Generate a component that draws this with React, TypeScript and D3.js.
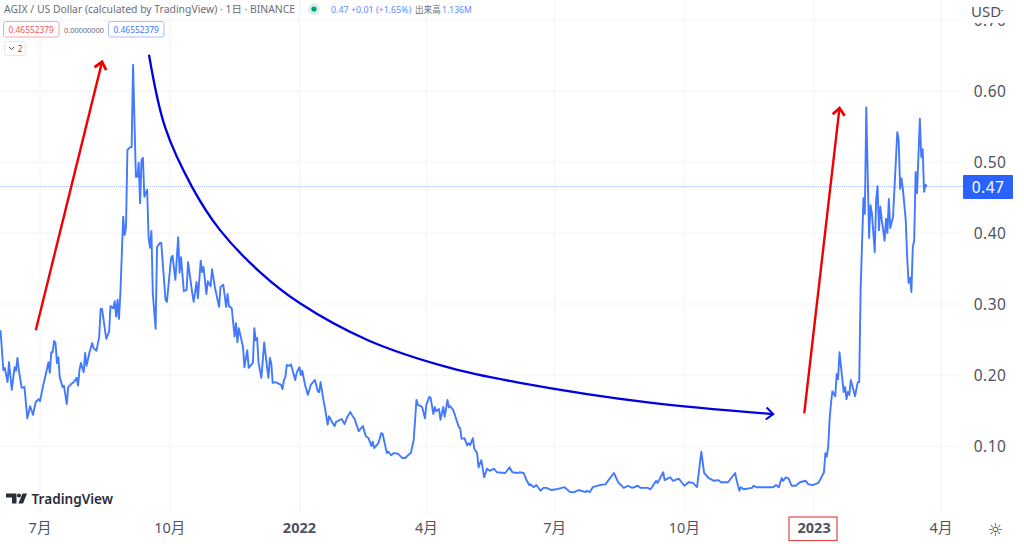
import React from 'react';
import { scaleUtc, scaleLinear, line, curveLinear, curveCatmullRom } from 'd3';

// days counted from 2021-07-01, closing price in USD
const days = [
  -28, -26, -25, -23, -22, -20, -18, -17, -16, -15, -13, -11, -9, -7, -5, -3, -1, 0, 2, 4, 6, 7, 8, 9, 10, 11, 12, 13, 14, 16, 17, 19, 20, 22, 24, 26, 27, 28, 29, 31, 32, 33, 35, 37, 38, 40, 42, 43, 44, 47, 49, 50, 52, 53, 54, 55, 56, 57, 59, 60, 61, 62, 64, 65, 66, 68, 69, 70, 71, 72, 73, 74, 76, 77, 78, 79, 80, 82, 83, 85, 86, 89, 90, 93, 94, 96, 98, 99, 100, 102, 104, 105, 108, 109, 111, 112, 114, 115, 116, 118, 119, 121, 122, 124, 127, 128, 130, 132, 133, 134, 136, 138, 139, 140, 141, 144, 145, 147, 148, 151, 152, 153, 154, 155, 157, 159, 161, 162, 163, 164, 165, 167, 171, 172, 173, 174, 175, 177, 178, 181, 182, 184, 185, 186, 188, 190, 192, 195, 197, 198, 199, 201, 202, 204, 205, 207, 209, 210, 214, 216, 218, 220, 222, 223, 226, 229, 231, 233, 235, 236, 237, 240, 242, 243, 246, 247, 249, 251, 254, 257, 259, 261, 263, 265, 267, 268, 271, 273, 274, 276, 277, 279, 280, 281, 283, 284, 286, 287, 289, 290, 291, 293, 297, 298, 299, 301, 303, 304, 305, 307, 308, 310, 311, 313, 315, 317, 319, 320, 322, 324, 330, 333, 335, 339, 340, 343, 345, 347, 348, 350, 352, 355, 357, 359, 363, 366, 370, 372, 376, 379, 382, 387, 388, 390, 392, 397, 401, 404, 407, 410, 414, 417, 420, 424, 426, 431, 433, 437, 438, 442, 443, 445, 447, 449, 453, 457, 460, 463, 466, 469, 471, 474, 478, 481, 483, 488, 493, 494, 496, 497, 499, 505, 506, 508, 513, 520, 522, 524, 526, 527, 529, 531, 533, 536, 539, 543, 545, 548, 552, 554, 556, 557, 558, 559, 560, 561, 562, 564, 565, 566, 567, 570, 571, 572, 573, 574, 575, 576, 578, 580, 581, 582, 584, 585, 586, 588, 589, 590, 592, 593, 594, 595, 596, 597, 599, 600, 601, 602, 603, 605, 608, 609, 610, 611, 612, 614, 615, 616, 617, 618, 619, 620, 621, 622, 624, 625, 626, 627, 628, 629,
];
const prices = [
  .263, .207, .210, .190, .218, .179, .211, .206, .224, .207, .182, .183, .139, .156, .144, .162, .166, .163, .183, .200, .218, .203, .232, .232, .248, .245, .217, .225, .197, .183, .185, .159, .183, .187, .190, .196, .185, .207, .217, .204, .231, .213, .231, .245, .238, .234, .254, .293, .293, .251, .261, .297, .294, .304, .282, .306, .279, .315, .423, .397, .408, .517, .521, .521, .637, .479, .479, .499, .442, .503, .506, .451, .461, .394, .379, .403, .315, .265, .380, .386, .386, .306, .303, .365, .368, .334, .394, .344, .366, .318, .320, .359, .315, .303, .331, .308, .361, .345, .352, .314, .332, .325, .349, .324, .296, .324, .327, .296, .314, .297, .294, .254, .273, .246, .266, .239, .211, .235, .210, .217, .266, .249, .252, .217, .196, .246, .211, .196, .224, .217, .189, .190, .186, .180, .193, .197, .214, .213, .215, .193, .203, .211, .200, .206, .186, .172, .186, .193, .177, .176, .190, .165, .155, .130, .142, .134, .128, .134, .138, .131, .141, .148, .141, .139, .121, .128, .114, .111, .100, .106, .097, .104, .118, .117, .090, .092, .087, .090, .089, .083, .083, .087, .090, .108, .165, .158, .155, .139, .158, .169, .168, .145, .155, .149, .152, .137, .155, .141, .165, .154, .156, .151, .127, .125, .110, .111, .101, .104, .101, .111, .096, .090, .070, .080, .056, .068, .065, .066, .068, .063, .062, .070, .063, .062, .063, .062, .052, .045, .046, .042, .045, .037, .041, .041, .038, .039, .041, .042, .035, .035, .038, .035, .037, .035, .042, .045, .046, .054, .062, .049, .041, .044, .041, .044, .041, .041, .039, .051, .048, .063, .052, .054, .056, .051, .054, .044, .049, .048, .042, .092, .062, .055, .051, .052, .049, .049, .062, .052, .037, .042, .039, .041, .044, .042, .042, .042, .045, .042, .055, .051, .056, .054, .044, .044, .049, .051, .046, .045, .048, .055, .063, .090, .085, .099, .137, .161, .177, .170, .201, .194, .232, .176, .183, .166, .176, .172, .193, .186, .170, .190, .190, .320, .449, .427, .577, .393, .439, .428, .373, .446, .466, .404, .437, .418, .389, .420, .400, .448, .407, .423, .542, .531, .462, .477, .461, .418, .366, .330, .337, .317, .380, .390, .486, .456, .561, .507, .518, .458, .468, .465,
];

const priceTicks = [0.1, 0.2, 0.3, 0.4, 0.5, 0.6, 0.7];
const lastPrice = 0.46552379;

const timeTickDates = ['2021-07-01', '2021-10-01', '2022-01-01', '2022-04-01', '2022-07-01', '2022-10-01', '2023-01-01', '2023-04-01'];
const timeTickLabels = ['7月', '10月', '2022', '4月', '7月', '10月', '2023', '4月'];

// hand drawn annotations, in the same day / price units as the series
const riseOneDays = [-3, 44];
const riseOnePrices = [.263, .641];
const riseTwoDays = [542, 567];
const riseTwoPrices = [.146, .576];
const fallDays = [77.3, 88.7, 107.8, 127.7, 156, 184.4, 232.6, 290.8, 340.4, 432.6, 520];
const fallPrices = [.651, .549, .465, .404, .345, .301, .249, .210, .189, .161, .145];

const baseDay = new Date(Date.UTC(2021, 6, 1));
const toDate = (d: number) => new Date(baseDay.getTime() + d * 86400000);

const x = scaleUtc()
  .domain([new Date('2021-07-01T00:00:00Z'), new Date('2023-04-01T00:00:00Z')])
  .range([40, 941]);
const y = scaleLinear().domain([0.1, 0.6]).range([446, 91]);

const FONT = '"Noto Sans", "Noto Sans CJK JP", sans-serif';

type Pt = [number, number];
const zipPts = (ds: number[], ps: number[]): Pt[] => ds.map((d, i) => [d, ps[i]]);

const priceLine = line<Pt>()
  .x(d => x(toDate(d[0])))
  .y(d => y(d[1]))
  .curve(curveLinear);
const fallLine = line<Pt>()
  .x(d => x(toDate(d[0])))
  .y(d => y(d[1]))
  .curve(curveCatmullRom.alpha(0.5));

const App: React.FC = () => {
  const series = zipPts(days, prices);
  return (
    <div>
      <style>{`body{margin:0;background:#fff}`}</style>
      <svg width={1024} height={544} style={{ display: 'block', fontFamily: FONT }}>
        <defs>
          <marker id="headRed" viewBox="-9 -8 11 16" refX="0" refY="0" markerUnits="userSpaceOnUse" markerWidth="11" markerHeight="16" orient="auto">
            <path d="M-7,-6 L0,0 L-7,6" fill="none" stroke="#f00000" strokeWidth={2.8} />
          </marker>
          <marker id="headBlue" viewBox="-9 -8 11 16" refX="0" refY="0" markerUnits="userSpaceOnUse" markerWidth="11" markerHeight="16" orient="auto">
            <path d="M-7,-6 L0,0 L-7,6" fill="none" stroke="#0000e0" strokeWidth={2} />
          </marker>
        </defs>

        {/* grid */}
        {timeTickDates.map(d => (
          <line key={d} x1={x(new Date(d))} x2={x(new Date(d))} y1={0} y2={514} stroke="#f3f4f7" />
        ))}
        {priceTicks.map(p => (
          <line key={p} x1={0} x2={963} y1={y(p)} y2={y(p)} stroke="#f3f4f7" />
        ))}

        {/* last price line */}
        <line x1={0} x2={963} y1={y(lastPrice)} y2={y(lastPrice)} stroke="#2962ff" strokeOpacity={0.4} strokeDasharray="1 1" />

        <path d={priceLine(series) ?? ''} fill="none" stroke="#4279ff" strokeWidth={1.9} strokeLinejoin="round" />

        {/* annotations */}
        <path d={priceLine(zipPts(riseOneDays, riseOnePrices)) ?? ''} fill="none" stroke="#f00000" strokeWidth={2.4} markerEnd="url(#headRed)" />
        <path d={priceLine(zipPts(riseTwoDays, riseTwoPrices)) ?? ''} fill="none" stroke="#f00000" strokeWidth={2.4} markerEnd="url(#headRed)" />
        <path d={fallLine(zipPts(fallDays, fallPrices)) ?? ''} fill="none" stroke="#0000e0" strokeWidth={2.3} markerEnd="url(#headBlue)" />

        {/* price axis */}
        <g fontSize={15.5} fill="#50535e" textAnchor="middle" letterSpacing={0.4}>
          {priceTicks.map(p => (
            <text key={p} x={990} y={y(p) + 5.5}>{p.toFixed(2)}</text>
          ))}
        </g>
        <rect x={964} y={0} width={60} height={23} fill="#fff" />
        <text x={971} y={16.5} fontSize={15} fill="#50535e">USD</text>
        <path d="M1001,10 h2.5 l-1.25,1.4 z" fill="#50535e" />
        <rect x={963} y={175} width={50} height={24} rx={1} fill="#2962ff" />
        <text x={988} y={192.5} fontSize={15.5} fill="#fff" textAnchor="middle" letterSpacing={0.4}>0.47</text>

        {/* time axis */}
        {timeTickDates.map((d, i) => (
          <text
            key={d + i}
            x={x(new Date(d))}
            y={533}
            fontSize={14.5}
            fontWeight={timeTickLabels[i].length === 4 ? 700 : 400}
            fill="#50535e"
            textAnchor="middle"
          >
            {timeTickLabels[i]}
          </text>
        ))}
        <rect x={789} y={517} width={48} height={23.5} fill="none" stroke="#e8474c" strokeWidth={1.2} />
        <text x={995} y={536} fontSize={18} fill="#50535e" textAnchor="middle" fontFamily="DejaVu Sans">☼</text>

        {/* legend */}
        <text x={4} y={13} fontSize={10.4} fill="#6a6d78">AGIX / US Dollar (calculated by TradingView) · 1日 · BINANCE</text>
        <circle cx={314} cy={9} r={6} fill="#d9efe9" />
        <circle cx={314} cy={9} r={2.6} fill="#089981" />
        <text x={331} y={13} fontSize={8.9} fill="#5b8cff">0.47 +0.01 (+1.65%)</text>
        <text x={415} y={13} fontSize={8.6} fill="#6a6d78">出来高</text>
        <text x={442} y={13} fontSize={8.6} fill="#5b8cff">1.136M</text>
        <rect x={3.5} y={21.5} width={55.5} height={15.5} rx={2} fill="#fff" stroke="#f7a6ab" />
        <text x={31.2} y={33} fontSize={8.4} fill="#f2545b" textAnchor="middle">0.46552379</text>
        <text x={84} y={32.5} fontSize={7.4} fill="#6a6d78" textAnchor="middle">0.00000000</text>
        <rect x={108.5} y={21.5} width={55.5} height={15.5} rx={2} fill="#fff" stroke="#a9bdfb" />
        <text x={136.2} y={33} fontSize={8.4} fill="#3f74ff" textAnchor="middle">0.46552379</text>
        <rect x={4.5} y={41.5} width={21} height={14} rx={2} fill="#fff" stroke="#e6e7ea" />
        <path d="M9,47 l2.5,2.5 l2.5,-2.5" fill="none" stroke="#50535e" />
        <text x={20} y={52} fontSize={8} fill="#50535e" textAnchor="middle">2</text>

        {/* TradingView logo */}
        <path d="M6,493.5 h10.5 v10 h-4.5 v-6 h-6 z" fill="#2a2e39" />
        <circle cx={19} cy={495.6} r={2} fill="#2a2e39" />
        <path d="M22.5,493.5 h4.5 l-4,10 h-4.6 z" fill="#2a2e39" />
        <text x={31.5} y={503.5} fontSize={13.6} fontWeight={600} fill="#2a2e39">TradingView</text>
      </svg>
    </div>
  );
};

export default App;
